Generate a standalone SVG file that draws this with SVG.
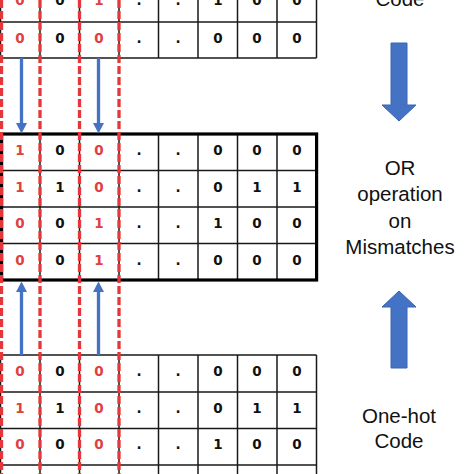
<svg xmlns="http://www.w3.org/2000/svg" width="474" height="474" viewBox="0 0 474 474">
<defs>
<style>
.grid{stroke:#1a1a1a;stroke-width:1.5;fill:none}
.thick{stroke:#000;stroke-width:3.2;fill:none}
.d{font-family:"DejaVu Sans",Verdana,sans-serif;font-weight:bold;font-size:13.5px;text-anchor:middle;fill:#111}
.r{fill:#e0403f}
.lbl{font-family:"Liberation Sans",Arial,sans-serif;font-size:20.5px;text-anchor:middle;fill:#111}
.red{stroke:#e5363a;stroke-width:3.3;stroke-dasharray:8 3;fill:none}
.thin{stroke:#4472c4;stroke-width:3.3;fill:none}
.head{fill:#4472c4}
.block{fill:#4472c4;stroke:#3b64b0;stroke-width:1}
</style>
</defs>
<rect width="474" height="474" fill="#fff"/>

<g id="top-table">
<path class="grid" d="M0.5 22H316.5M0.5 58H316.5M0.5 0V58M40 0V58M79.5 0V58M119 0V58M158.5 0V58M198 0V58M237.5 0V58M277 0V58M316.5 0V58"/>
<text class="d r" x="20" y="5">0</text><text class="d" x="60" y="5">0</text><text class="d r" x="99" y="5">1</text><text class="d" x="139" y="5">.</text><text class="d" x="178" y="5">.</text><text class="d" x="218" y="5">1</text><text class="d" x="257" y="5">0</text><text class="d" x="297" y="5">0</text>
<text class="d r" x="20" y="43">0</text><text class="d" x="60" y="43">0</text><text class="d r" x="99" y="43">0</text><text class="d" x="139" y="43">.</text><text class="d" x="178" y="43">.</text><text class="d" x="218" y="43">0</text><text class="d" x="257" y="43">0</text><text class="d" x="297" y="43">0</text>
</g>

<g id="middle-table">
<path class="grid" d="M1.5 170.5H316.5M1.5 207H316.5M1.5 243.5H316.5M40 134V280M79.5 134V280M119 134V280M158.5 134V280M198 134V280M237.5 134V280M277 134V280"/>
<rect class="thick" x="1.6" y="134" width="315" height="146"/>
<text class="d r" x="20" y="155">1</text><text class="d" x="60" y="155">0</text><text class="d r" x="99" y="155">0</text><text class="d" x="139" y="155">.</text><text class="d" x="178" y="155">.</text><text class="d" x="218" y="155">0</text><text class="d" x="257" y="155">0</text><text class="d" x="297" y="155">0</text>
<text class="d r" x="20" y="191.5">1</text><text class="d" x="60" y="191.5">1</text><text class="d r" x="99" y="191.5">0</text><text class="d" x="139" y="191.5">.</text><text class="d" x="178" y="191.5">.</text><text class="d" x="218" y="191.5">0</text><text class="d" x="257" y="191.5">1</text><text class="d" x="297" y="191.5">1</text>
<text class="d r" x="20" y="228">0</text><text class="d" x="60" y="228">0</text><text class="d r" x="99" y="228">1</text><text class="d" x="139" y="228">.</text><text class="d" x="178" y="228">.</text><text class="d" x="218" y="228">1</text><text class="d" x="257" y="228">0</text><text class="d" x="297" y="228">0</text>
<text class="d r" x="20" y="264.5">0</text><text class="d" x="60" y="264.5">0</text><text class="d r" x="99" y="264.5">1</text><text class="d" x="139" y="264.5">.</text><text class="d" x="178" y="264.5">.</text><text class="d" x="218" y="264.5">0</text><text class="d" x="257" y="264.5">0</text><text class="d" x="297" y="264.5">0</text>
</g>

<g id="bottom-table">
<path class="grid" d="M0.5 355H316.5M0.5 392H316.5M0.5 428.5H316.5M0.5 465H316.5M0.5 355V474M40 355V474M79.5 355V474M119 355V474M158.5 355V474M198 355V474M237.5 355V474M277 355V474M316.5 355V474"/>
<text class="d r" x="20" y="376">0</text><text class="d" x="60" y="376">0</text><text class="d r" x="99" y="376">0</text><text class="d" x="139" y="376">.</text><text class="d" x="178" y="376">.</text><text class="d" x="218" y="376">0</text><text class="d" x="257" y="376">0</text><text class="d" x="297" y="376">0</text>
<text class="d r" x="20" y="412.5">1</text><text class="d" x="60" y="412.5">1</text><text class="d r" x="99" y="412.5">0</text><text class="d" x="139" y="412.5">.</text><text class="d" x="178" y="412.5">.</text><text class="d" x="218" y="412.5">0</text><text class="d" x="257" y="412.5">1</text><text class="d" x="297" y="412.5">1</text>
<text class="d r" x="20" y="449">0</text><text class="d" x="60" y="449">0</text><text class="d r" x="99" y="449">0</text><text class="d" x="139" y="449">.</text><text class="d" x="178" y="449">.</text><text class="d" x="218" y="449">1</text><text class="d" x="257" y="449">0</text><text class="d" x="297" y="449">0</text>
</g>

<g id="mismatch-columns">
<path class="red" d="M1.5 0V474M40 0V474M79.5 0V474M119 0V474"/>
</g>

<g id="connectors">
<path class="thin" d="M21.5 58V124M98.5 58V124M21.5 355V291M98.5 355V291"/>
<path class="head" d="M16 123H27L21.5 133.5ZM93 123H104L98.5 133.5ZM16 292H27L21.5 281.5ZM93 292H104L98.5 281.5Z"/>
<path class="block" d="M391 43H407V105H416L399 121L382 105H391Z"/>
<path class="block" d="M391 368H407V307H416L399 291L382 307H391Z"/>
</g>

<g id="label-top">
<text class="lbl" x="400" y="6">Code</text>
</g>
<g id="label-middle">
<text class="lbl" x="400" y="174.5">OR</text>
<text class="lbl" x="400" y="201">operation</text>
<text class="lbl" x="400" y="227.5">on</text>
<text class="lbl" x="400" y="254">Mismatches</text>
</g>
<g id="label-bottom">
<text class="lbl" x="399" y="423">One-hot</text>
<text class="lbl" x="399" y="448">Code</text>
</g>
</svg>
